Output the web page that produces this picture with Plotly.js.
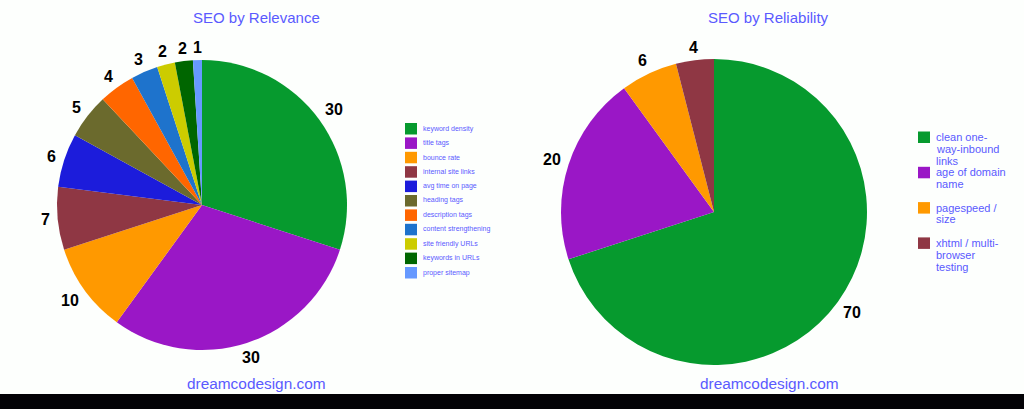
<!DOCTYPE html>
<html>
<head>
<meta charset="utf-8">
<script src="https://cdn.plot.ly/plotly-3.0.1.min.js"></script>
<style>
html, body { margin: 0; padding: 0; background: #fdfffd; }
#chart { width: 1024px; height: 409px; }
</style>
</head>
<body>
<div id="chart"></div>
<script>
// SEO by Relevance (left pie)
var relevanceLabels = ['keyword density', 'title tags', 'bounce rate', 'internal site links',
    'avg time on page', 'heading tags', 'description tags', 'content strengthening',
    'site friendly URLs', 'keywords in URLs', 'proper sitemap'];
var relevanceValues = [30, 30, 10, 7, 6, 5, 4, 3, 2, 2, 1];
var relevanceColors = ['#069a2e', '#9a17c6', '#ff9900', '#8f3744', '#1c1cdb', '#6b6a2d',
    '#ff6600', '#1e73cc', '#cccc00', '#006600', '#6699ff'];

// SEO by Reliability (right pie)
var reliabilityLabels = ['clean one-<br>way-inbound<br>links', 'age of domain<br>name',
    'pagespeed /<br>size', 'xhtml / multi-<br>browser<br>testing'];
var reliabilityValues = [70, 20, 6, 4];
var reliabilityColors = ['#069a2e', '#9a17c6', '#ff9900', '#8f3744'];

var W = 1024, H = 409;
var FONT = 'Liberation Sans, Arial, sans-serif';
var BLUE_TEXT = '#5a5aff';

//pixel -> paper coords
function px(x){ return x / W; }
function py(y){ return 1 - y / H; }

//pie geometry in pixels: center and radius
var PIE_LEFT = {cx: 202, cy: 205, r: 145};
var PIE_RIGHT = {cx: 714, cy: 212, r: 153};

function pie_trace(labels, values, colors, g){
    return {
        type: 'pie',
        labels: labels,
        values: values,
        marker: {colors: colors, line: {width: 0}},
        sort: false,
        direction: 'clockwise',
        rotation: 0,
        textinfo: 'none',
        hoverinfo: 'none',
        showlegend: false,
        domain: {x: [px(g.cx - g.r), px(g.cx + g.r)], y: [py(g.cy + g.r), py(g.cy - g.r)]}
    };
}

var data = [
    pie_trace(relevanceLabels, relevanceValues, relevanceColors, PIE_LEFT),
    pie_trace(reliabilityLabels, reliabilityValues, reliabilityColors, PIE_RIGHT)
];

var shapes = [];
var annotations = [];

//Value labels outside each slice, at the slice's mid angle (clockwise from 12 o'clock)
function add_value_labels(values, g){
    var total = values.reduce(function(a, b){ return a + b; }, 0);
    var cum = 0;
    for (var i = 0; i < values.length; i++){
        var theta = (cum + values[i] / 2) / total * 2 * Math.PI;
        cum += values[i];
        var s = Math.sin(theta), c = Math.cos(theta);
        var txt = String(values[i]);
        var halfW = txt.length * 4.75, halfH = 6;
        var d = g.r + 6.5 + Math.abs(s) * halfW + Math.abs(c) * halfH;
        annotations.push({
            xref: 'paper', yref: 'paper',
            x: px(g.cx + s * d), y: py(g.cy - c * d),
            xanchor: 'center', yanchor: 'middle',
            text: '<b>' + txt + '</b>', showarrow: false,
            font: {family: FONT, size: 16, color: '#000000'}
        });
    }
}
add_value_labels(relevanceValues, PIE_LEFT);
add_value_labels(reliabilityValues, PIE_RIGHT);

//Legend: colour square + text lines, one entry per label
function add_legend(labels, colors, x0, y0, step, fontSize, lineStep, boxW){
    for (var i = 0; i < labels.length; i++){
        var yc = y0 + i * step;
        shapes.push({
            type: 'rect', xref: 'paper', yref: 'paper',
            x0: px(x0), x1: px(x0 + 12), y0: py(yc + 6), y1: py(yc - 5.5),
            fillcolor: colors[i], line: {width: 0}
        });
        var lines = labels[i].split('<br>');
        for (var k = 0; k < lines.length; k++){
            annotations.push({
                xref: 'paper', yref: 'paper',
                x: px(x0 + 16), y: py(yc + k * lineStep),
                xanchor: 'left', yanchor: 'middle', align: 'left', width: boxW,
                text: lines[k], showarrow: false,
                font: {family: FONT, size: fontSize, color: BLUE_TEXT}
            });
        }
    }
}

add_legend(relevanceLabels, relevanceColors, 405, 128.5, 14.4, 7, 0, 90);
add_legend(reliabilityLabels, reliabilityColors, 918, 137, 35.3, 11, 11.8, 86);

//Titles and footers
function add_text(text, x, y, size){
    annotations.push({
        xref: 'paper', yref: 'paper', x: px(x), y: py(y),
        xanchor: 'center', yanchor: 'middle', text: text, showarrow: false,
        font: {family: FONT, size: size, color: BLUE_TEXT}
    });
}
add_text('SEO by Relevance', 256.5, 17, 15);
add_text('SEO by Reliability', 768.5, 17, 15);
add_text('dreamcodesign.com', 256, 383, 15.4);
add_text('dreamcodesign.com', 769, 383, 15.4);

//black bar at the bottom
shapes.push({
    type: 'rect', xref: 'paper', yref: 'paper',
    x0: 0, x1: 1, y0: 0, y1: py(394),
    fillcolor: '#030206', line: {width: 0}, layer: 'below'
});

var layout = {
    width: W,
    height: H,
    margin: {l: 0, r: 0, t: 0, b: 0},
    paper_bgcolor: '#fdfffd',
    plot_bgcolor: '#fdfffd',
    showlegend: false,
    shapes: shapes,
    annotations: annotations
};

Plotly.newPlot('chart', data, layout, {displayModeBar: false, staticPlot: true});
</script>
</body>
</html>
